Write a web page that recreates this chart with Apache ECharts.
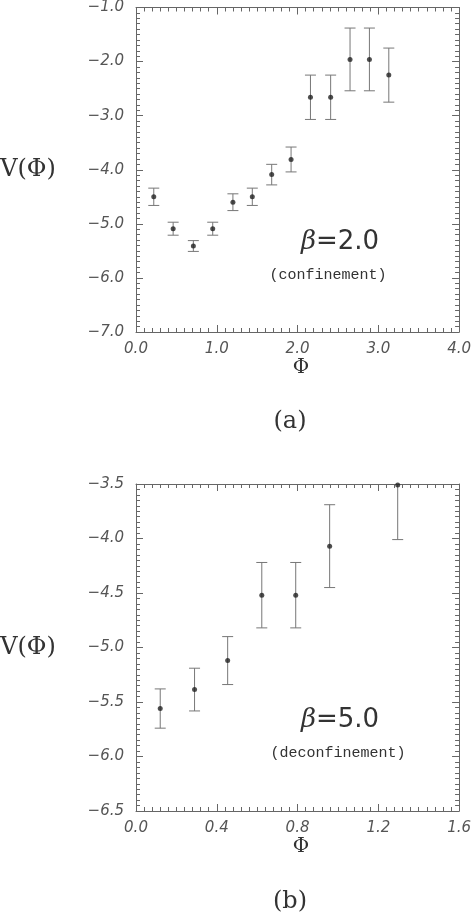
<!DOCTYPE html>
<html>
<head>
<meta charset="utf-8">
<script src="https://cdn.jsdelivr.net/npm/echarts@6/dist/echarts.min.js"></script>
<style>
  html, body { margin: 0; padding: 0; background: #fff; }
  #chart { width: 474px; height: 914px; }
</style>
</head>
<body>
<div id="chart"></div>
<script>
// panel (a): beta = 2.0, confinement
const phiA = [0.22, 0.46, 0.71, 0.95, 1.2, 1.44, 1.68, 1.92, 2.16, 2.41, 2.65, 2.89, 3.13];
const vA = [-4.5, -5.09, -5.41, -5.09, -4.6, -4.5, -4.09, -3.81, -2.66, -2.66, -1.96, -1.96, -2.25];
const errA = [0.16, 0.12, 0.1, 0.12, 0.155, 0.16, 0.19, 0.23, 0.41, 0.41, 0.58, 0.58, 0.5];

// panel (b): beta = 5.0, deconfinement
const phiB = [0.12, 0.29, 0.454, 0.623, 0.791, 0.959, 1.296];
const vB = [-5.56, -5.386, -5.12, -4.52, -4.52, -4.07, -3.51];
const errB = [0.18, 0.196, 0.22, 0.3, 0.3, 0.38, 0.5];

const AXIS_COLOR = "#666";
const LABEL_FONT = "DejaVu Sans";
const SERIF = "DejaVu Serif";

const fmt = (v) => {
  const s = Math.abs(v).toFixed(1);
  return (v < -1e-9 ? "\u2212" : "") + s;
};

const tickLabel = {
  formatter: fmt,
  fontFamily: LABEL_FONT,
  fontStyle: "italic",
  fontSize: 15,
  color: "#555",
};

function xAxes(gridIndex, max, interval) {
  const base = {
    gridIndex,
    type: "value",
    min: 0,
    max,
    interval,
    axisLine: { show: true, onZero: false, lineStyle: { color: AXIS_COLOR, width: 1 } },
    axisTick: { inside: true, length: 7, lineStyle: { color: AXIS_COLOR } },
    minorTick: { show: true, splitNumber: 10, length: 4, lineStyle: { color: AXIS_COLOR } },
    splitLine: { show: false },
  };
  return [
    { ...base, position: "bottom", axisLabel: { ...tickLabel, margin: 10, showMaxLabel: true } },
    { ...base, position: "top", axisLabel: { show: false } },
  ];
}

function yAxes(gridIndex, min, max, interval) {
  const base = {
    gridIndex,
    type: "value",
    min,
    max,
    interval,
    axisLine: { show: true, onZero: false, lineStyle: { color: AXIS_COLOR, width: 1 } },
    axisTick: { inside: true, length: 7, lineStyle: { color: AXIS_COLOR } },
    minorTick: { show: true, splitNumber: 10, length: 4, lineStyle: { color: AXIS_COLOR } },
    splitLine: { show: false },
  };
  return [
    { ...base, position: "left", axisLabel: { ...tickLabel, margin: 12 } },
    { ...base, position: "right", axisLabel: { show: false } },
  ];
}

function errorSeries(xIdx, yIdx, phi, v, err) {
  return {
    type: "custom",
    xAxisIndex: xIdx,
    yAxisIndex: yIdx,
    clip: true,
    data: phi.map((p, i) => [p, v[i] - err[i], v[i] + err[i]]),
    renderItem: (params, api) => {
      const lo = api.coord([api.value(0), api.value(1)]);
      const hi = api.coord([api.value(0), api.value(2)]);
      const w = 5.5;
      const style = { stroke: "#777", lineWidth: 1, fill: null };
      return {
        type: "group",
        children: [
          { type: "line", shape: { x1: lo[0], y1: lo[1], x2: hi[0], y2: hi[1] }, style },
          { type: "line", shape: { x1: lo[0] - w, y1: lo[1], x2: lo[0] + w, y2: lo[1] }, style },
          { type: "line", shape: { x1: hi[0] - w, y1: hi[1], x2: hi[0] + w, y2: hi[1] }, style },
        ],
      };
    },
    z: 2,
  };
}

function pointSeries(xIdx, yIdx, phi, v) {
  return {
    type: "scatter",
    xAxisIndex: xIdx,
    yAxisIndex: yIdx,
    symbol: "circle",
    symbolSize: 5,
    itemStyle: { color: "#222" },
    data: phi.map((p, i) => [p, v[i]]),
    z: 3,
  };
}

function text(x, y, str, font, extra = {}) {
  return {
    type: "text",
    x,
    y,
    style: {
      text: str,
      font,
      fill: "#333",
      textAlign: "center",
      textVerticalAlign: "middle",
      ...extra,
    },
  };
}

function betaLabel(x, y, val) {
  return {
    type: "text",
    x,
    y,
    style: {
      text: "{b|\u03b2}{n|=" + val + "}",
      textAlign: "center",
      textVerticalAlign: "middle",
      rich: {
        b: { font: `italic 26px ${SERIF}`, fill: "#333" },
        n: { font: `26px ${LABEL_FONT}`, fill: "#333" },
      },
    },
  };
}

const chart = echarts.init(document.getElementById("chart"));
chart.setOption({
  animation: false,
  grid: [
    { left: 136, top: 5, width: 328, height: 327 },
    { left: 136, top: 484, width: 328, height: 327 },
  ],
  xAxis: [...xAxes(0, 4, 1), ...xAxes(1, 1.6, 0.4)],
  yAxis: [...yAxes(0, -7, -1, 1), ...yAxes(1, -6.5, -3.5, 0.5)],
  series: [
    errorSeries(0, 0, phiA, vA, errA),
    pointSeries(0, 0, phiA, vA),
    errorSeries(2, 2, phiB, vB, errB),
    pointSeries(2, 2, phiB, vB),
  ],
  graphic: [
    text(28, 170, "V(\u03a6)", `24px ${SERIF}`),
    text(301, 368, "\u03a6", `20px ${SERIF}`),
    text(290, 422, "(a)", `24px ${SERIF}`),
    betaLabel(340, 242, "2.0"),
    text(328, 275, "(confinement)", `15px "Liberation Mono"`),
    text(28, 648, "V(\u03a6)", `24px ${SERIF}`),
    text(301, 847, "\u03a6", `20px ${SERIF}`),
    text(290, 902, "(b)", `24px ${SERIF}`),
    betaLabel(340, 720, "5.0"),
    text(338, 753, "(deconfinement)", `15px "Liberation Mono"`),
  ],
});
</script>
</body>
</html>
